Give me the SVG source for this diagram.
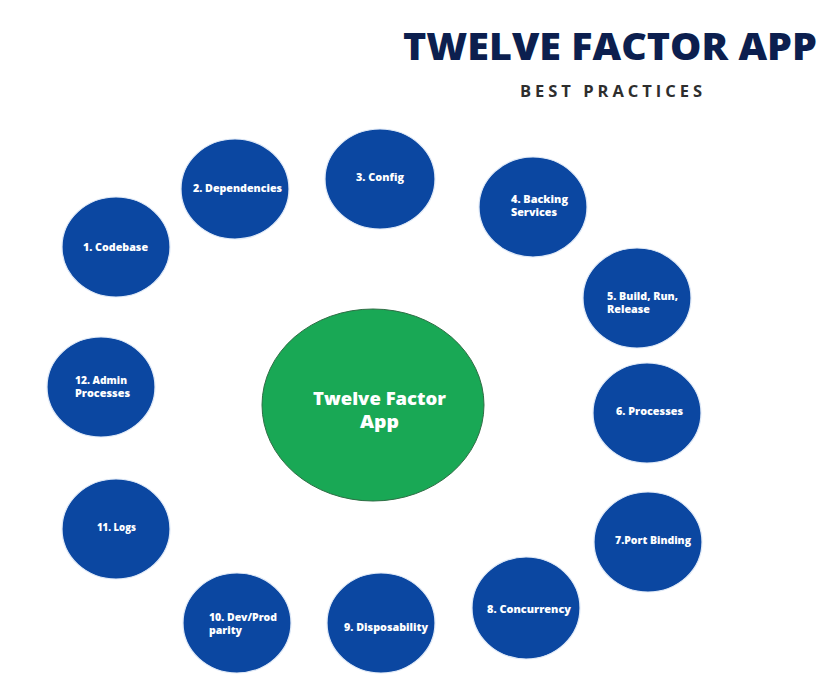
<svg xmlns="http://www.w3.org/2000/svg" width="830" height="682" viewBox="0 0 830 682">
<style>
.node{fill:#0b47a1;stroke:#dfe9f7;stroke-width:1.2}
.hub{fill:#19a855;stroke:#2f6e45;stroke-width:1}
.lbl{font-family:"Open Sans","Liberation Sans",sans-serif;font-weight:800;font-size:10.5px;fill:#ffffff}
.hubl{font-family:"Open Sans","Liberation Sans",sans-serif;font-weight:800;font-size:18px;fill:#ffffff}
.title{font-family:"Open Sans","Liberation Sans",sans-serif;font-weight:800;font-size:37px;fill:#0c1f4f}
.sub{font-family:"Open Sans","Liberation Sans",sans-serif;font-weight:700;font-size:16.5px;fill:#2e2e2e}
</style>
<rect width="830" height="682" fill="#ffffff"/>
<g id="title">
<text class="title" x="403" y="60" textLength="414" lengthAdjust="spacingAndGlyphs">TWELVE FACTOR APP</text>
<text class="sub" x="520" y="97" textLength="182" lengthAdjust="spacing">BEST PRACTICES</text>
</g>
<g id="connectors"></g>
<g id="hub">
<ellipse class="hub" cx="373" cy="405" rx="111" ry="96"/>
<text class="hubl" x="313" y="405" textLength="133" lengthAdjust="spacingAndGlyphs">Twelve Factor</text>
<text class="hubl" x="360" y="428" textLength="39" lengthAdjust="spacingAndGlyphs">App</text>
</g>
<g id="n1">
<ellipse class="node" cx="116" cy="247" rx="54" ry="50"/>
<text class="lbl" x="83" y="251" textLength="65" lengthAdjust="spacingAndGlyphs">1. Codebase</text>
</g>
<g id="n2">
<ellipse class="node" cx="235" cy="189" rx="54" ry="50"/>
<text class="lbl" x="193" y="192" textLength="89" lengthAdjust="spacingAndGlyphs">2. Dependencies</text>
</g>
<g id="n3">
<ellipse class="node" cx="380" cy="179" rx="55" ry="50"/>
<text class="lbl" x="356" y="181" textLength="48" lengthAdjust="spacingAndGlyphs">3. Config</text>
</g>
<g id="n4">
<ellipse class="node" cx="533" cy="207" rx="54" ry="50"/>
<text class="lbl" x="511" y="202.5" textLength="57" lengthAdjust="spacingAndGlyphs">4. Backing</text>
<text class="lbl" x="511" y="216" textLength="46" lengthAdjust="spacingAndGlyphs">Services</text>
</g>
<g id="n5">
<ellipse class="node" cx="637" cy="298" rx="54" ry="50"/>
<text class="lbl" x="607" y="299.5" textLength="71" lengthAdjust="spacingAndGlyphs">5. Build, Run,</text>
<text class="lbl" x="607" y="312.5" textLength="43" lengthAdjust="spacingAndGlyphs">Release</text>
</g>
<g id="n6">
<ellipse class="node" cx="647" cy="413" rx="54" ry="50"/>
<text class="lbl" x="616" y="415" textLength="67" lengthAdjust="spacingAndGlyphs">6. Processes</text>
</g>
<g id="n7">
<ellipse class="node" cx="648" cy="542" rx="54" ry="50"/>
<text class="lbl" x="615" y="544" textLength="76" lengthAdjust="spacingAndGlyphs">7.Port Binding</text>
</g>
<g id="n8">
<ellipse class="node" cx="526" cy="608" rx="54" ry="51"/>
<text class="lbl" x="487" y="613" textLength="84" lengthAdjust="spacingAndGlyphs">8. Concurrency</text>
</g>
<g id="n9">
<ellipse class="node" cx="381" cy="623" rx="54" ry="50"/>
<text class="lbl" x="344" y="631" textLength="84" lengthAdjust="spacingAndGlyphs">9. Disposability</text>
</g>
<g id="n10">
<ellipse class="node" cx="237" cy="623" rx="54" ry="50"/>
<text class="lbl" x="209" y="620.5" textLength="68" lengthAdjust="spacingAndGlyphs">10. Dev/Prod</text>
<text class="lbl" x="209" y="634" textLength="33" lengthAdjust="spacingAndGlyphs">parity</text>
</g>
<g id="n11">
<ellipse class="node" cx="116" cy="529" rx="54" ry="50"/>
<text class="lbl" x="97" y="531" textLength="39" lengthAdjust="spacingAndGlyphs">11. Logs</text>
</g>
<g id="n12">
<ellipse class="node" cx="101" cy="387" rx="54" ry="50"/>
<text class="lbl" x="75" y="383.5" textLength="52" lengthAdjust="spacingAndGlyphs">12. Admin</text>
<text class="lbl" x="75" y="396.5" textLength="55" lengthAdjust="spacingAndGlyphs">Processes</text>
</g>
</svg>
